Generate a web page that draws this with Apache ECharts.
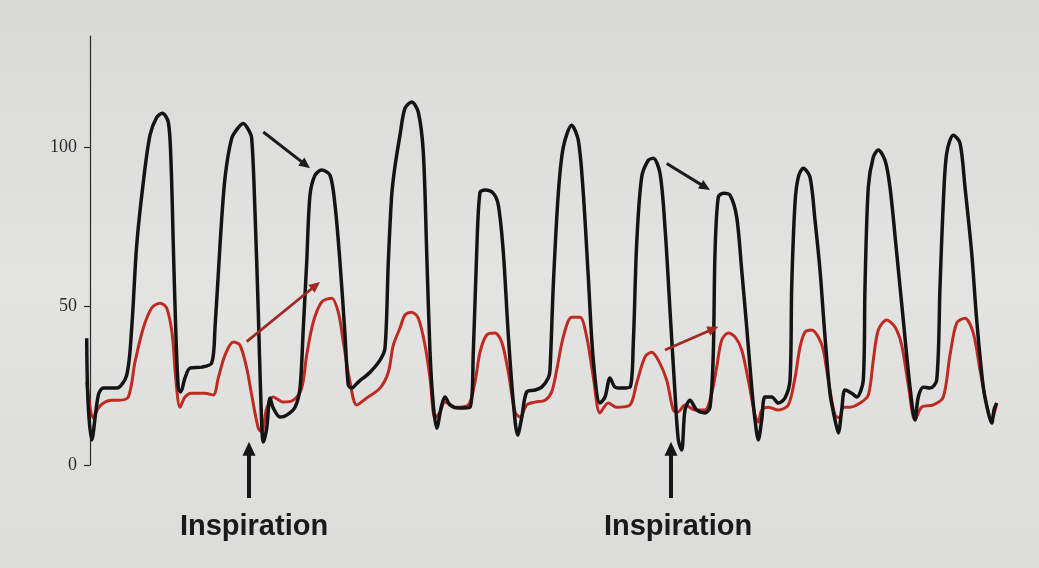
<!DOCTYPE html>
<html>
<head>
<meta charset="utf-8">
<script src="https://cdn.jsdelivr.net/npm/echarts@6/dist/echarts.min.js"></script>
<style>
html,body{margin:0;padding:0;background:#e0e0de;}
#c{width:1039px;height:568px;}
</style>
</head>
<body>
<div id="c"></div>
<script>
// Left ventricular pressure (black trace): time (arbitrary units), pressure (mmHg)
const lvTime = [-3.3,-2,1.7,8.3,13.3,26.7,36.7,41.7,46.7,53.3,60,66.7,72.3,78.3,81,83.3,85.7,88.3,90.7,95,100,111.7,121.7,125,130,135,141.7,148.3,153.3,158.3,161.7,165,168.3,170.7,173.3,176.7,180,183.3,190,196.7,205,210,213.3,216.7,220,225,231.7,240,245,250,255,258.3,261.7,268.3,280,290,295,298.3,301.7,305,310,315,321.7,328.3,333.3,336.7,340,343.3,346.7,351.7,355,360,368.3,380,383.3,386.7,390,395,403.3,408.3,413.3,418.3,423.3,427.7,431.7,436.7,445,451.7,458.3,460,463.3,468.3,473.3,481.7,488.3,493.3,498.3,503.3,510,515,520,525,531.7,540,543.3,546.7,551.7,558.3,563.3,570,575,580,585,588.3,591.7,595,600,606.7,615,620,623.3,625,628.3,633.3,640,646.7,651.7,656.7,661.7,665,668.3,671.7,675,681.7,688.3,695,700,701.7,705,708.3,713.3,720,725,730,735,740,745,748.3,751.7,755,761.7,766.7,773.3,775,778.3,783.3,788.3,795,800,806.7,813.3,820,825,828.3,833.3,840,846.7,850,853.3,856.7,863.3,870,875,881.7,886.7,893.3,898.3,901.7,904,906.7];
const lvPressure = [39.9,20.1,7.9,22.0,24.2,24.2,28.3,43.1,69.2,89.0,103.8,109.4,110.7,107.9,95.3,69.2,43.1,24.2,23.0,27.4,30.5,30.8,32.1,43.1,69.2,90.3,102.8,106.2,107.5,105.6,102.8,79.6,48.1,22.0,7.2,11.6,21.1,17.9,15.1,15.7,18.2,24.2,43.1,63.8,84.9,91.2,92.8,91.2,81.8,63.8,40.9,25.2,24.2,26.1,29.2,33.0,36.8,63.8,84.9,94.0,103.8,112.3,114.2,111.0,98.4,67.0,35.5,18.9,11.6,18.9,21.4,18.9,17.9,18.2,35.5,67.0,85.8,86.5,85.5,81.8,67.0,40.9,19.8,9.4,14.8,23.0,23.6,24.5,27.4,29.9,56.6,85.5,100.0,106.9,102.2,85.5,59.1,33.0,19.5,21.4,27.4,24.5,24.2,24.5,38.4,69.8,90.6,95.9,96.5,91.8,74.8,48.7,22.6,7.9,4.7,17.3,20.4,17.3,16.4,18.2,35.2,66.7,84.3,85.5,84.9,78.0,61.3,43.4,24.5,14.2,7.9,14.2,21.4,21.4,19.5,21.1,26.7,56.0,82.4,90.6,93.4,90.6,77.0,61.3,40.3,22.6,14.2,10.1,17.3,23.6,22.6,21.4,26.7,56.0,87.4,96.9,99.1,95.9,87.4,66.7,45.6,24.5,14.2,21.4,24.5,24.2,26.7,56.0,82.4,98.1,103.8,101.3,87.4,66.7,45.6,24.5,16.4,13.2,17.3,19.5];

// Right ventricular pressure (red trace)
const rvTime = [-3.3,3.3,8.3,15,21.7,28.3,38.3,45,53.3,61.7,70,76.7,82.3,85.7,90,95,101.7,115,123.3,128.3,135,143.3,150,156.7,161.7,168.3,171.7,176.7,183.3,193.3,203.3,211.7,216.7,223.3,231.7,241.7,248.3,253.3,260,266.7,276.7,290,298.3,303.3,310,315,321.7,328.3,335,340,345,350,355,365,378.3,385,390,396.7,405,411.7,418.3,425,430,436.7,445,455,461.7,466.7,473.3,481.7,490,496.7,503.3,510,518.3,526.7,540,546.7,555,561.7,568.3,576.7,583.3,588,595,605,615,621.7,626.7,631.7,638.3,645,651.7,658.3,665,668.3,671.7,678.3,688.3,698.3,705,710,715,721.7,728.3,733.3,738.3,745,750,753,760,770,778.3,783.3,788.3,796.7,805,811.7,818.3,825,831.7,843.3,853.3,860,866.7,875,883.3,890,896.7,901.7,906.7];
const rvPressure = [26.1,14.8,17.9,19.8,20.4,20.4,21.4,32.4,43.1,49.4,50.9,49.4,40.9,27.4,18.2,21.4,22.6,22.6,22.0,27.4,34.6,38.7,37.7,30.5,22.0,11.6,10.4,17.9,21.4,19.8,20.4,24.2,34.6,45.0,51.3,52.5,48.1,38.7,26.1,18.9,21.1,24.2,29.2,37.7,43.1,47.2,48.1,46.2,37.7,27.4,14.8,16.7,19.8,18.2,18.9,26.1,35.5,40.9,41.5,38.7,29.2,16.7,15.1,18.9,19.8,20.4,23.0,29.9,40.3,46.5,46.5,40.3,27.7,16.4,19.5,18.2,18.9,25.8,34.0,35.5,33.0,26.7,17.3,16.7,18.9,17.3,17.3,22.6,30.8,39.3,41.5,40.3,36.2,26.7,15.7,13.5,17.3,18.2,17.3,18.9,27.4,37.1,41.8,42.5,40.3,36.2,26.7,15.7,14.8,18.2,18.2,19.5,22.0,33.0,42.5,45.6,43.4,37.7,25.2,14.2,18.2,18.9,21.4,34.6,44.7,46.2,41.5,29.9,18.9,14.2,19.5];

const yTicks = [0, 50, 100];

// Annotations in data coordinates [time, pressure]
const blackArrows = [[[173.3,104.8],[220,93.4]], [[576.7,94.9],[620,86.5]]];
const redArrows = [[[156.7,38.8],[230,57.6]], [[575,36.2],[628.3,43.5]]];
const inspirationArrows = [[[159,-10.4],[159,7.3]], [[581,-10.4],[581,7.3]]];
const inspirationLabels = [[164,-19.5,'Inspiration'], [588,-19.5,'Inspiration']];

const zip = (a, b) => a.map((t, i) => [t, b[i]]);

const chart = echarts.init(document.getElementById('c'), null, {renderer: 'canvas'});
chart.setOption({
  backgroundColor: {
    type: 'linear', x: 0, y: 0, x2: 0, y2: 1,
    colorStops: [{offset: 0, color: '#d9dad8'}, {offset: 0.5, color: '#e3e3e1'}, {offset: 1, color: '#dcdcda'}]
  },
  animation: false,
  grid: {left: 86, right: 37, top: 36, bottom: 103, containLabel: false},
  xAxis: {type: 'value', min: -4, max: 912, show: false},
  yAxis: {
    type: 'value', min: 0, max: 135, interval: 50,
    splitLine: {show: false},
    axisLine: {show: true, onZero: true, lineStyle: {color: '#2a2a2a', width: 1.2}},
    axisTick: {show: true, length: 6, customValues: yTicks, lineStyle: {color: '#2a2a2a', width: 1.2}},
    axisLabel: {customValues: yTicks, margin: 9, color: '#2b2b2b', fontFamily: '"Liberation Serif", "DejaVu Serif", serif', fontSize: 18}
  },
  series: [
    {
      type: 'line', name: 'RV', data: zip(rvTime, rvPressure), showSymbol: false, smooth: 0.3,
      lineStyle: {color: '#bf2a21', width: 3}, z: 2
    },
    {
      type: 'line', name: 'LV', data: zip(lvTime, lvPressure), showSymbol: false, smooth: 0.3,
      lineStyle: {color: '#141414', width: 3.5}, z: 3
    }
  ]
});

function arrow(from, to, color, width, headLen, headW) {
  const p0 = chart.convertToPixel({gridIndex: 0}, from);
  const p1 = chart.convertToPixel({gridIndex: 0}, to);
  const dx = p1[0] - p0[0], dy = p1[1] - p0[1];
  const L = Math.hypot(dx, dy), ux = dx / L, uy = dy / L;
  const bx = p1[0] - ux * headLen, by = p1[1] - uy * headLen;
  const nx = -uy, ny = ux;
  return [
    {type: 'line', shape: {x1: p0[0], y1: p0[1], x2: bx + ux * 1, y2: by + uy * 1}, style: {stroke: color, lineWidth: width}, z: 10},
    {type: 'polygon', shape: {points: [[p1[0], p1[1]], [bx + nx * headW / 2, by + ny * headW / 2], [bx - nx * headW / 2, by - ny * headW / 2]]}, style: {fill: color}, z: 10}
  ];
}

const els = [];
blackArrows.forEach(a => els.push(...arrow(a[0], a[1], '#1c1c1c', 3, 11, 10)));
redArrows.forEach(a => els.push(...arrow(a[0], a[1], '#9e2a25', 2.8, 11, 10)));
inspirationArrows.forEach(a => els.push(...arrow(a[0], a[1], '#161616', 4, 14, 13)));
inspirationLabels.forEach(l => {
  const p = chart.convertToPixel({gridIndex: 0}, [l[0], l[1]]);
  els.push({type: 'text', x: p[0], y: p[1], z: 10,
    style: {text: l[2], fill: '#1a1a1a', font: 'bold 29px "Liberation Sans", Arial, sans-serif', align: 'center', verticalAlign: 'middle'}});
});
chart.setOption({graphic: {elements: els}});
</script>
</body>
</html>
